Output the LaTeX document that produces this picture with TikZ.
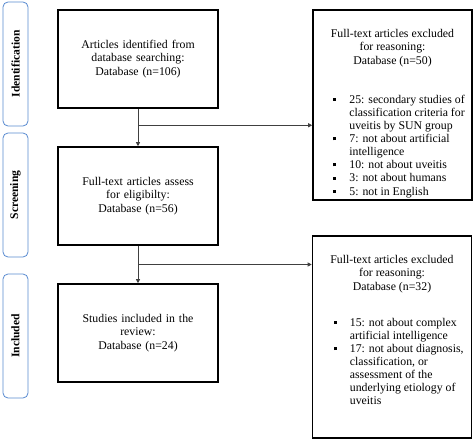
\documentclass[tikz,border=0pt]{standalone}
\usepackage{fontspec}
\setmainfont{Liberation Serif}
\usepackage{xcolor}
\usepackage{tikz}
\usetikzlibrary{positioning,calc,arrows.meta}
\definecolor{barblue}{RGB}{88,138,208}
\newcommand{\sq}{\rule[2.4pt]{3pt}{3pt}}

\begin{document}
\begin{tikzpicture}[x=1pt, y=-1pt, node distance={137pt},
    >={Triangle[length=4pt,width=4pt]},
    main/.style  = {draw, line width=1.6pt, minimum width=160pt, minimum height=98pt, align=center, text width=150pt, font=\fontsize{11.8}{13.3}\selectfont},
    side/.style  = {draw, line width=1.6pt, minimum width=159pt},
    head/.style  = {align=center, inner sep=0pt, font=\fontsize{11.8}{13.3}\selectfont},
    list/.style  = {inner sep=0pt, font=\fontsize{11.8}{13.1}\selectfont},
    phase/.style = {draw=barblue, line width=0.8pt, rounded corners=5pt, rotate=90, minimum width=124pt, minimum height=25pt, font=\fontsize{11.6}{13}\selectfont\bfseries},
    link/.style  = {draw=black!75, line width=0.8pt}]
    \useasboundingbox (0,0) rectangle (474,439);
    \node[phase] (10) at (15.5,64)  {Identification};
    \node[phase] (11) at (15.5,195) {Screening};
    \node[phase] (12) at (15.5,336) {Included};
    \node[main] (1) at (138,59)  {Articles identified from\\database searching:\\Database (n=106)};
    \node[main] (2) [below of=1] {Full-text articles assess\\for eligibilty:\\Database (n=56)};
    \node[main] (3) [below of=2] {Studies included in the\\review:\\Database (n=24)};
    \node[side, minimum height=190pt] (4) at (392.5,105) {};
    \node[side, minimum height=202pt] (5) at (392,337)   {};
    \node[head] (6) [below=20pt of 4.north] {Full-text articles excluded\\for reasoning:\\Database (n=50)};
    \node[head] (7) [below=20pt of 5.north] {Full-text articles excluded\\for reasoning:\\Database (n=32)};
    \node[list] (8) [below right=84.8pt and 21pt of 4.north west] {%
        \begin{tabular}{@{}l@{\hspace{13pt}}l@{}}
            \sq & 25: secondary studies of\\
                & classification criteria for\\
                & uveitis by SUN group\\
            \sq & 7: not about artificial\\
                & intelligence\\
            \sq & 10: not about uveitis\\
            \sq & 3: not about humans\\
            \sq & 5: not in English
        \end{tabular}};
    \node[list] (9) [below right=81.8pt and 22pt of 5.north west] {%
        \begin{tabular}{@{}l@{\hspace{13pt}}l@{}}
            \sq & 15: not about complex\\
                & artificial intelligence\\
            \sq & 17: not about diagnosis,\\
                & classification, or\\
                & assessment of the\\
                & underlying etiology of\\
                & uveitis
        \end{tabular}};
    \coordinate (a) at ($(1.south)!0.44!(2.north)$);
    \coordinate (b) at ($(2.south)!0.5!(3.north)$);
    \draw[link,->] (1) -- (2);
    \draw[link,->] (2) -- (3);
    \draw[link,->] (a) -- (a -| 4.west);
    \draw[link,->] (b) -- (b -| 5.west);
\end{tikzpicture}
\end{document}
